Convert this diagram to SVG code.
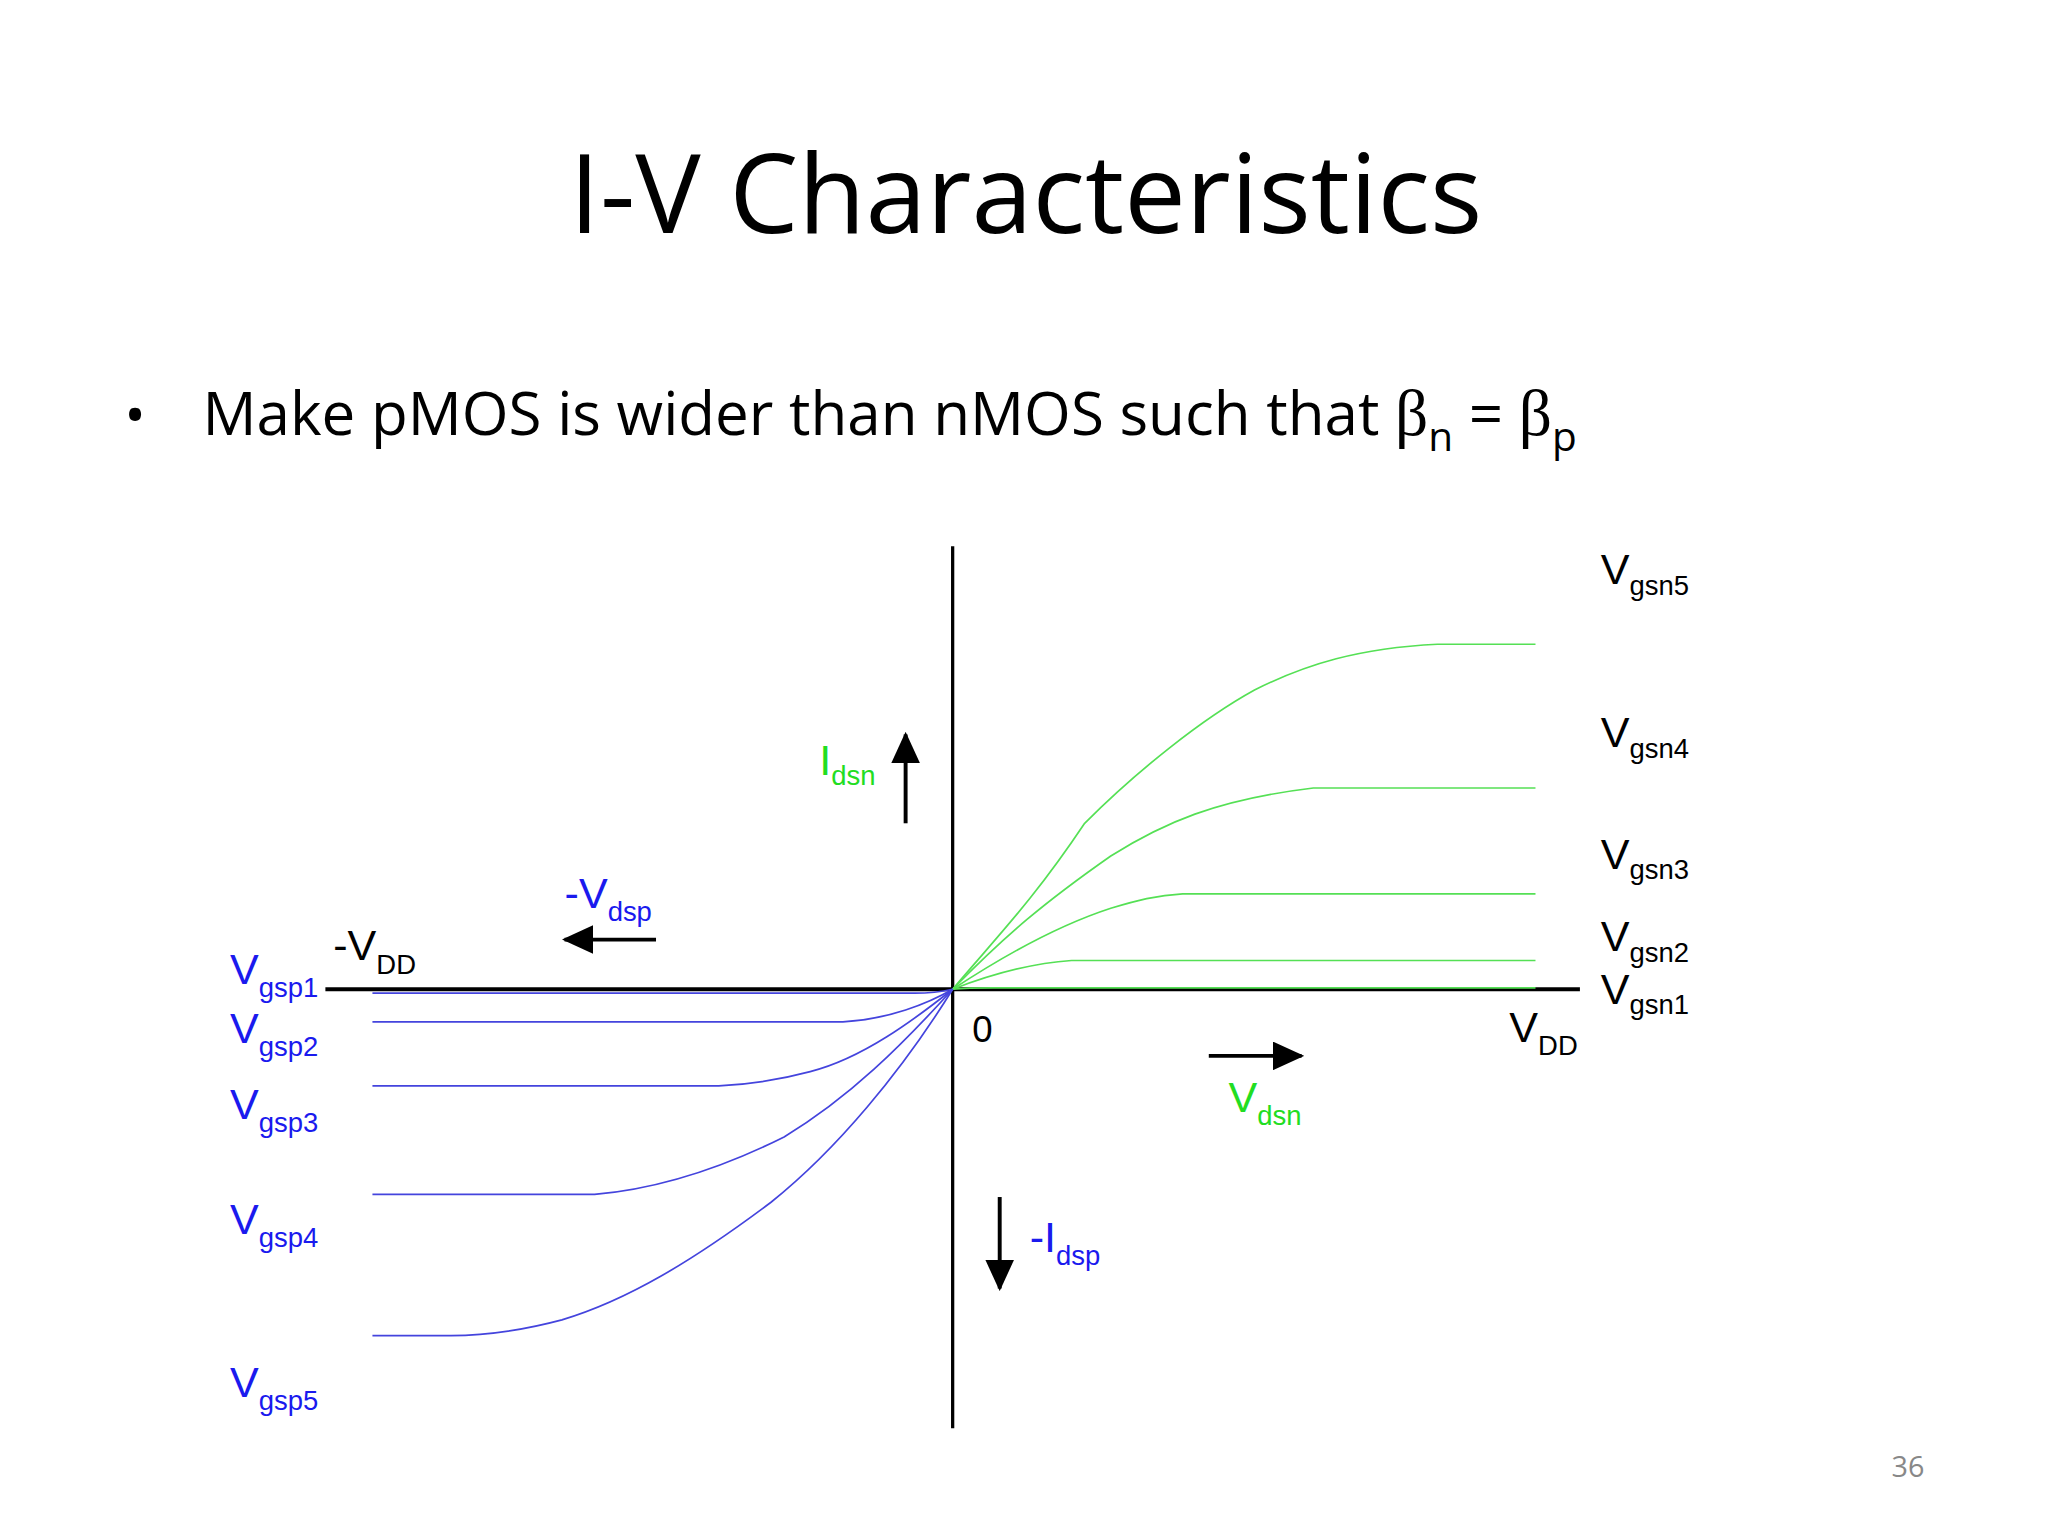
<svg xmlns="http://www.w3.org/2000/svg" width="2048" height="1536" viewBox="0 0 2048 1536">
<defs>
<style>
.lbl{font-family:"Liberation Sans",Arial,sans-serif;font-size:33px}
.sub{font-size:21px}
.g{fill:#22dd22}.b{fill:#1a1aee}.k{fill:#000}
.gc{fill:none;stroke:#55e055;stroke-width:1.3}
.bc{fill:none;stroke:#4444dd;stroke-width:1.3}
.ar{stroke:#000;stroke-width:3;fill:none}
</style>
<marker id="ah" markerWidth="24" markerHeight="22" refX="22" refY="11" orient="auto" markerUnits="userSpaceOnUse" viewBox="0 0 24 22"><path d="M0,0 L24,11 L0,22 z" fill="#000"/></marker>
</defs>
<rect width="2048" height="1536" fill="#fff"/>
<g transform="scale(1.3068)">
<g id="title"><text x="785" y="178" text-anchor="middle" font-family="'Open Sans','Noto Sans',sans-serif" font-size="84" fill="#000">I-V Characteristics</text></g>
<g id="bullet"><text x="95" y="333" font-family="'Open Sans','Noto Sans',sans-serif" font-size="44" fill="#000">•</text>
<text x="155" y="333" font-family="'Open Sans','Noto Sans',sans-serif" font-size="46" fill="#000">Make pMOS is wider than nMOS such that <tspan font-family="'Liberation Serif',serif" font-size="50">β</tspan><tspan font-size="31" dy="12">n</tspan><tspan dy="-12"> = </tspan><tspan font-family="'Liberation Serif',serif" font-size="50">β</tspan><tspan font-size="31" dy="12">p</tspan></text></g>
<g id="connectors">
<line x1="729" y1="418" x2="729" y2="1093" stroke="#000" stroke-width="2.5"/>
<line x1="249" y1="757" x2="1209" y2="757" stroke="#000" stroke-width="3"/>
<path class="gc" d="M729,757 C760,720 790,690 830,630 C870,590 920,550 960,528 C1000,508 1040,496 1100,493 L1175,493"/>
<path class="gc" d="M729,757 C770,715 800,690 850,655 C890,630 930,612 1005,603 L1175,603"/>
<path class="gc" d="M729,757 C770,730 810,708 850,695 C870,689 885,685 905,684 L1175,684"/>
<path class="gc" d="M729,757 C760,745 790,737 820,735 L1175,735"/>
<path class="gc" d="M729,757 C740,756 750,756 760,756 L1175,756"/>
<path class="bc" d="M729,757 C720,759 710,760 700,760 L285,760"/>
<path class="bc" d="M729,757 C710,768 680,780 645,782 L285,782"/>
<path class="bc" d="M729,757 C700,780 660,810 620,820 C590,828 570,830 550,831 L285,831"/>
<path class="bc" d="M729,757 C690,800 650,840 600,870 C550,895 500,910 455,914 L285,914"/>
<path class="bc" d="M729,757 C690,820 640,880 590,920 C530,965 480,995 430,1010 C400,1018 370,1022 345,1022 L285,1022"/>
<line class="ar" x1="693" y1="630" x2="693" y2="562" marker-end="url(#ah)" stroke-width="2.5"/>
<line class="ar" x1="502" y1="719" x2="432" y2="719" marker-end="url(#ah)"/>
<line class="ar" x1="925" y1="808" x2="996" y2="808" marker-end="url(#ah)"/>
<line class="ar" x1="765" y1="916" x2="765" y2="986" marker-end="url(#ah)" stroke-width="2.5"/>
</g>
<g id="labels" class="lbl">
<text class="k" x="1225" y="447">V<tspan class="sub" dy="8">gsn5</tspan></text>
<text class="k" x="1225" y="572">V<tspan class="sub" dy="8">gsn4</tspan></text>
<text class="k" x="1225" y="665">V<tspan class="sub" dy="8">gsn3</tspan></text>
<text class="k" x="1225" y="728">V<tspan class="sub" dy="8">gsn2</tspan></text>
<text class="k" x="1225" y="768">V<tspan class="sub" dy="8">gsn1</tspan></text>
<text class="k" x="1155" y="797">V<tspan class="sub" dy="10">DD</tspan></text>
<text class="k" x="744" y="797" font-size="28">0</text>
<text class="k" x="255" y="735">-V<tspan class="sub" dy="10">DD</tspan></text>
<text class="b" x="176" y="753">V<tspan class="sub" dy="10">gsp1</tspan></text>
<text class="b" x="176" y="798">V<tspan class="sub" dy="10">gsp2</tspan></text>
<text class="b" x="176" y="856">V<tspan class="sub" dy="10">gsp3</tspan></text>
<text class="b" x="176" y="944">V<tspan class="sub" dy="10">gsp4</tspan></text>
<text class="b" x="176" y="1069">V<tspan class="sub" dy="10">gsp5</tspan></text>
<text class="b" x="432" y="695">-V<tspan class="sub" dy="10">dsp</tspan></text>
<text class="g" x="627" y="593">I<tspan class="sub" dy="8">dsn</tspan></text>
<text class="g" x="940" y="851">V<tspan class="sub" dy="10">dsn</tspan></text>
<text class="b" x="788" y="958">-I<tspan class="sub" dy="10">dsp</tspan></text>
</g>
<g id="page"><text x="1460" y="1130" text-anchor="middle" font-family="'Open Sans',sans-serif" font-size="22" fill="#888">36</text></g>
</g>
</svg>
